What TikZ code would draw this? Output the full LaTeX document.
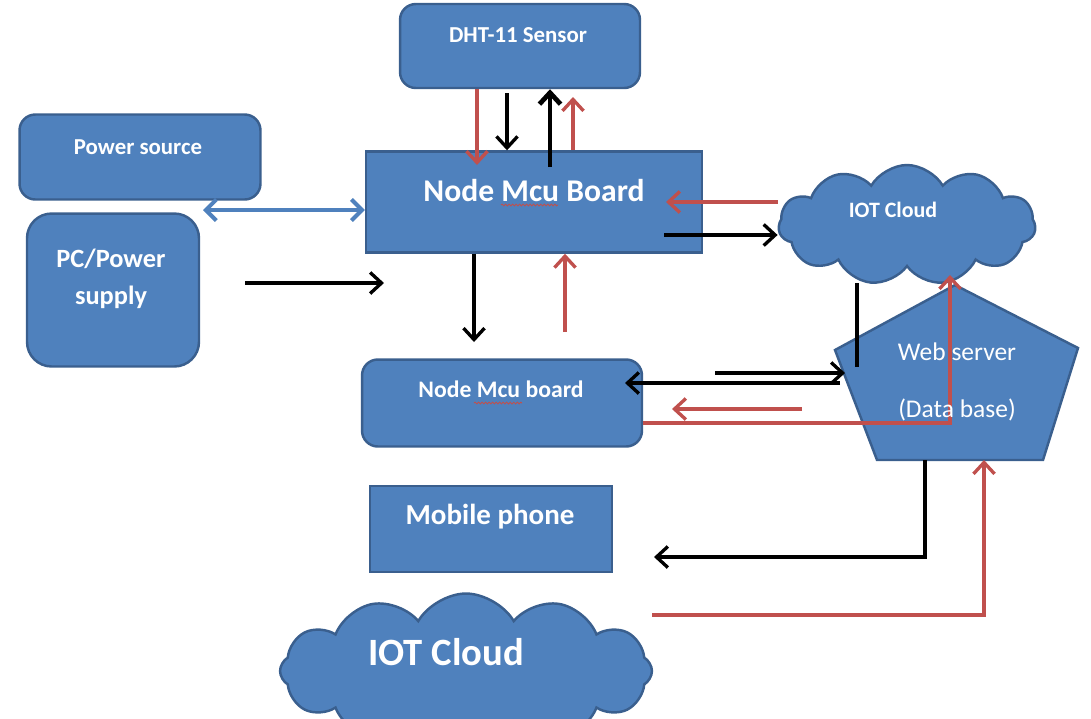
\documentclass[tikz,border=0pt]{standalone}
\usepackage{fontspec}
\setmainfont{Carlito}
\usetikzlibrary{shapes.symbols,arrows.meta,decorations.pathmorphing}

\definecolor{boxblue}{HTML}{4F81BD}
\definecolor{boxline}{HTML}{3A5F8E}
\definecolor{linered}{HTML}{C0504D}

\begin{document}
\begin{tikzpicture}
[
	x=0.02cm, y=-0.02cm,
	box/.style={draw=boxline,fill=boxblue,line width=1.4pt,inner sep=0pt},
	roundbox/.style={box,rounded corners=9pt},
	cloudbox/.style={box,cloud,cloud puffs=11,cloud puff arc=120},
	txt/.style={text=white,font=\bfseries,inner sep=0pt},
	thin txt/.style={text=white,inner sep=0pt},
	blk/.style={line width=1.9pt,-{Straight Barb[length=6.5pt,width=12pt]}},
	red/.style={linered,line width=1.9pt,-{Straight Barb[length=6.5pt,width=12pt]}},
	squiggle/.style={linered,line width=0.5pt,decorate,decoration={snake,amplitude=0.5pt,segment length=2pt}}
]

	\useasboundingbox (0,0) rectangle (1091,718);
	\clip (0,0) rectangle (1091,718);

	% boxes
	\node[roundbox,minimum width=4.8cm,minimum height=1.68cm] (dht) at (520,46) {};
	\node[roundbox,minimum width=4.82cm,minimum height=1.7cm] (source) at (140,157) {};
	\node[roundbox,rounded corners=14pt,minimum width=3.44cm,minimum height=3.06cm] (pc) at (113,290) {};
	\node[box,minimum width=6.72cm,minimum height=2.02cm] (board) at (534,202) {};
	\node[roundbox,minimum width=5.6cm,minimum height=1.74cm] (smallboard) at (502,403) {};
	\node[box,minimum width=4.84cm,minimum height=1.72cm] (mobile) at (491,529) {};
	\node[cloudbox,minimum width=5.14cm,minimum height=2.4cm] (cloud) at (907,225) {};
	\node[cloudbox,cloud puffs=12,minimum width=7.44cm,minimum height=3.1cm] (bigcloud) at (466,671) {};

	% web server
	\filldraw[draw=boxline,fill=boxblue,line width=1.4pt]
	  (955,285) coordinate (web-top) -- (1078,348) -- (1043,460) coordinate (web-br)
	  -- (877,460) coordinate (web-bl) -- (835,350) coordinate (web-left) -- cycle;

	% texts
	\node[txt,font=\bfseries\fontsize{13}{15}\selectfont] (dhtname) at (518,35) {DHT-11 Sensor};
	\node[txt,font=\bfseries\fontsize{13}{15}\selectfont] (sourcename) at (138,147) {Power source};
	\node[txt,font=\bfseries\fontsize{15}{21}\selectfont,align=center] (pcname) at (111,279) {PC/Power\\supply};
	\node[txt,font=\bfseries\fontsize{18}{20}\selectfont] (boardname) at (534,191) {Node Mcu Board};
	\node[txt,font=\bfseries\fontsize{13.5}{15}\selectfont] (smallboardname) at (501,389) {Node Mcu board};
	\node[txt,font=\bfseries\fontsize{16.5}{18}\selectfont] (mobilename) at (490,517) {Mobile phone};
	\node[txt,font=\bfseries\fontsize{12.5}{14}\selectfont] (cloudname) at (893,210) {IOT Cloud};
	\node[txt,font=\bfseries\fontsize{22}{24}\selectfont] (bigcloudname) at (446,652) {IOT Cloud};

	% spelling marks
	\draw[squiggle] (501,205) -- (558,205);
	\draw[squiggle] (474,403) -- (522,403);

	% sensor arrows
	\draw[red] (dht.south -| 477,0) -- (477,165);
	\draw[blk] (507,93) -- (board.north -| 507,0);
	\draw[blk,line width=2.7pt] (550,167) -- (dht.south -| 550,0);
	\draw[red] (board.north -| 573,0) -- (573,97);

	% power
	\draw[boxblue,line width=2.3pt,{Straight Barb[length=6pt,width=12pt]}-{Straight Barb[length=6pt,width=12pt]}]
	  (203,210) -- (board.west |- 0,210);
	\draw[blk] (245,283) -- (384,283);

	% board and small board
	\draw[blk] (board.south -| 474,0) -- (474,342);
	\draw[red] (565,332) -- (board.south -| 565,0);

	% cloud
	\draw[red] (cloud.west |- 0,202) -- (666,202);
	\draw[blk] (664,235) -- (cloud.west |- 0,235);

	% web server
	\draw[line width=1.9pt] (857,283) -- (857,367);
	\draw[blk] (715,373) -- (845,373);
	\draw[blk] (840,383) -- (625,383);
	\draw[red] (802,409) -- (672,409);
	\draw[red] (smallboard.east |- 0,423) -- (950,423) -- (950,275);

	% web server text
	\node[thin txt,font=\fontsize{14.5}{16}\selectfont] (webname) at (957,352) {Web server};
	\node[thin txt,font=\fontsize{14.5}{16}\selectfont] (dbname) at (957,410) {(Data base)};

	% mobile phone and big cloud
	\draw[blk] (web-bl -| 925,0) -- (925,557) -- (654,557);
	\draw[red] (652,615) -- (984,615) -- (web-br -| 984,0);

\end{tikzpicture}
\end{document}
